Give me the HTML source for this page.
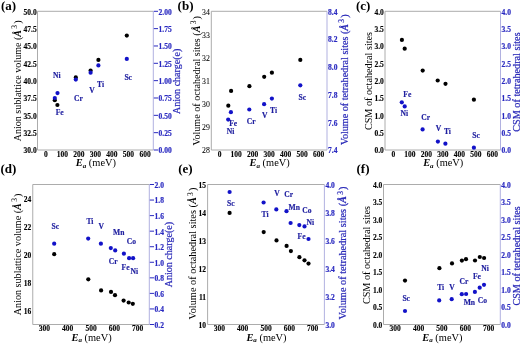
<!DOCTYPE html>
<html><head><meta charset="utf-8"><title>Figure</title>
<style>
html,body{margin:0;padding:0;background:#fff;}
svg{display:block;}
text{font-family:"Liberation Serif","DejaVu Serif",serif;}
.tk{font-size:7.5px;font-weight:bold;stroke:currentColor;stroke-width:0.18px;}
.tl{text-anchor:end;}
.tk{stroke-width:0.12px;}
.sr{font-weight:normal;font-size:7.8px;stroke-width:0.05px;}
.nb{font-family:"Liberation Sans","DejaVu Sans",sans-serif;font-size:7.4px;stroke-width:0.1px;}
.tc{text-anchor:middle;}
.el{font-size:7.6px;font-weight:bold;fill:#2020a0;text-anchor:middle;stroke:#2020a0;stroke-width:0.15px;}
.ax{font-size:10.4px;}
.axa{font-size:10.3px;}
.pl{font-size:13px;font-weight:bold;}
</style></head><body>
<svg width="520" height="344" viewBox="0 0 520 344">
<rect width="520" height="344" fill="#fff"/>
<path d="M37.5 11.3H153.3M37.5 11.3V150H153.3" stroke="#a3a3a3" stroke-width="0.9" fill="none"/>
<path d="M153.3 11.3V150" stroke="#a8a8dc" stroke-width="0.9" fill="none"/>
<text class="tk tc" x="45.77" y="156.9">0</text>
<text class="tk tc" x="62.31" y="156.9">100</text>
<text class="tk tc" x="78.86" y="156.9">200</text>
<text class="tk tc" x="95.4" y="156.9">300</text>
<text class="tk tc" x="111.94" y="156.9">400</text>
<text class="tk tc" x="128.49" y="156.9">500</text>
<text class="tk tc" x="145.03" y="156.9">600</text>
<text class="tk tl" x="36.7" y="153.4">30.0</text>
<text class="tk tl" x="36.7" y="136.06">32.5</text>
<text class="tk tl" x="36.7" y="118.73">35.0</text>
<text class="tk tl" x="36.7" y="101.39">37.5</text>
<text class="tk tl" x="36.7" y="84.05">40.0</text>
<text class="tk tl" x="36.7" y="66.71">42.5</text>
<text class="tk tl" x="36.7" y="49.38">45.0</text>
<text class="tk tl" x="36.7" y="32.04">47.5</text>
<text class="tk tl" x="36.7" y="14.7">50.0</text>
<path d="M153.8 150h4.2M153.8 132.66h4.2M153.8 115.33h4.2M153.8 97.99h4.2M153.8 80.65h4.2M153.8 63.31h4.2M153.8 45.98h4.2M153.8 28.64h4.2M153.8 11.3h4.2" stroke="#2a2ac0" stroke-width="1"/>
<text class="tk" x="158.5" y="153.4" fill="#2a2ac0" style="color:#2a2ac0;stroke-width:0.18px">0.00</text>
<text class="tk" x="158.5" y="136.06" fill="#2a2ac0" style="color:#2a2ac0;stroke-width:0.18px">0.25</text>
<text class="tk" x="158.5" y="118.73" fill="#2a2ac0" style="color:#2a2ac0;stroke-width:0.18px">0.50</text>
<text class="tk" x="158.5" y="101.39" fill="#2a2ac0" style="color:#2a2ac0;stroke-width:0.18px">0.75</text>
<text class="tk" x="158.5" y="84.05" fill="#2a2ac0" style="color:#2a2ac0;stroke-width:0.18px">1.00</text>
<text class="tk" x="158.5" y="66.71" fill="#2a2ac0" style="color:#2a2ac0;stroke-width:0.18px">1.25</text>
<text class="tk" x="158.5" y="49.38" fill="#2a2ac0" style="color:#2a2ac0;stroke-width:0.18px">1.50</text>
<text class="tk" x="158.5" y="32.04" fill="#2a2ac0" style="color:#2a2ac0;stroke-width:0.18px">1.75</text>
<text class="tk" x="158.5" y="14.7" fill="#2a2ac0" style="color:#2a2ac0;stroke-width:0.18px">2.00</text>
<text class="ax tc" x="95.9" y="166.3"><tspan font-weight="bold" font-style="italic">E</tspan><tspan font-weight="bold" font-style="italic" font-size="7" dy="1.6">a</tspan><tspan dy="-1.6"> (meV)</tspan></text>
<text class="pl" x="1" y="9.8">(a)</text>
<path d="M211.3 11.3H327M211.3 11.3V150H327" stroke="#a3a3a3" stroke-width="0.9" fill="none"/>
<path d="M327 11.3V150" stroke="#a8a8dc" stroke-width="0.9" fill="none"/>
<text class="tk tc" x="219.56" y="156.9">0</text>
<text class="tk tc" x="236.09" y="156.9">100</text>
<text class="tk tc" x="252.62" y="156.9">200</text>
<text class="tk tc" x="269.15" y="156.9">300</text>
<text class="tk tc" x="285.68" y="156.9">400</text>
<text class="tk tc" x="302.21" y="156.9">500</text>
<text class="tk tc" x="318.74" y="156.9">600</text>
<text class="tk tl sr" x="209.9" y="153.4">28</text>
<text class="tk tl sr" x="209.9" y="130.28">29</text>
<text class="tk tl sr" x="209.9" y="107.17">30</text>
<text class="tk tl sr" x="209.9" y="84.05">31</text>
<text class="tk tl sr" x="209.9" y="60.93">32</text>
<text class="tk tl sr" x="209.9" y="37.82">33</text>
<text class="tk tl sr" x="209.9" y="14.7">34</text>
<text class="tk" x="328" y="153.4" fill="#2a2ac0" style="color:#2a2ac0;stroke-width:0.18px">7.4</text>
<text class="tk" x="328" y="125.66" fill="#2a2ac0" style="color:#2a2ac0;stroke-width:0.18px">7.6</text>
<text class="tk" x="328" y="97.92" fill="#2a2ac0" style="color:#2a2ac0;stroke-width:0.18px">7.8</text>
<text class="tk" x="328" y="70.18" fill="#2a2ac0" style="color:#2a2ac0;stroke-width:0.18px">8.0</text>
<text class="tk" x="328" y="42.44" fill="#2a2ac0" style="color:#2a2ac0;stroke-width:0.18px">8.2</text>
<text class="tk" x="328" y="14.7" fill="#2a2ac0" style="color:#2a2ac0;stroke-width:0.18px">8.4</text>
<text class="ax tc" x="269.65" y="166.3"><tspan font-weight="bold" font-style="italic">E</tspan><tspan font-weight="bold" font-style="italic" font-size="7" dy="1.6">a</tspan><tspan dy="-1.6"> (meV)</tspan></text>
<text class="pl" x="177.6" y="9.8">(b)</text>
<path d="M385 11.3H500.5M385 11.3V150H500.5" stroke="#a3a3a3" stroke-width="0.9" fill="none"/>
<path d="M500.5 11.3V150" stroke="#a8a8dc" stroke-width="0.9" fill="none"/>
<text class="tk tc" x="393.25" y="156.9">0</text>
<text class="tk tc" x="409.75" y="156.9">100</text>
<text class="tk tc" x="426.25" y="156.9">200</text>
<text class="tk tc" x="442.75" y="156.9">300</text>
<text class="tk tc" x="459.25" y="156.9">400</text>
<text class="tk tc" x="475.75" y="156.9">500</text>
<text class="tk tc" x="492.25" y="156.9">600</text>
<text class="tk tl" x="383.8" y="153.4">0.0</text>
<text class="tk tl" x="383.8" y="136.06">0.5</text>
<text class="tk tl" x="383.8" y="118.73">1.0</text>
<text class="tk tl" x="383.8" y="101.39">1.5</text>
<text class="tk tl" x="383.8" y="84.05">2.0</text>
<text class="tk tl" x="383.8" y="66.71">2.5</text>
<text class="tk tl" x="383.8" y="49.38">3.0</text>
<text class="tk tl" x="383.8" y="32.04">3.5</text>
<text class="tk tl" x="383.8" y="14.7">4.0</text>
<text class="tk" x="501.5" y="153.4" fill="#2a2ac0" style="color:#2a2ac0;stroke-width:0.18px">0.0</text>
<text class="tk" x="501.5" y="136.06" fill="#2a2ac0" style="color:#2a2ac0;stroke-width:0.18px">0.5</text>
<text class="tk" x="501.5" y="118.73" fill="#2a2ac0" style="color:#2a2ac0;stroke-width:0.18px">1.0</text>
<text class="tk" x="501.5" y="101.39" fill="#2a2ac0" style="color:#2a2ac0;stroke-width:0.18px">1.5</text>
<text class="tk" x="501.5" y="84.05" fill="#2a2ac0" style="color:#2a2ac0;stroke-width:0.18px">2.0</text>
<text class="tk" x="501.5" y="66.71" fill="#2a2ac0" style="color:#2a2ac0;stroke-width:0.18px">2.5</text>
<text class="tk" x="501.5" y="49.38" fill="#2a2ac0" style="color:#2a2ac0;stroke-width:0.18px">3.0</text>
<text class="tk" x="501.5" y="32.04" fill="#2a2ac0" style="color:#2a2ac0;stroke-width:0.18px">3.5</text>
<text class="tk" x="501.5" y="14.7" fill="#2a2ac0" style="color:#2a2ac0;stroke-width:0.18px">4.0</text>
<text class="ax tc" x="443.25" y="166.3"><tspan font-weight="bold" font-style="italic">E</tspan><tspan font-weight="bold" font-style="italic" font-size="7" dy="1.6">a</tspan><tspan dy="-1.6"> (meV)</tspan></text>
<text class="pl" x="356" y="9.8">(c)</text>
<path d="M32.75 184.5H149.3M32.75 184.5V324.5H149.3" stroke="#a3a3a3" stroke-width="0.9" fill="none"/>
<path d="M149.3 184.5V324.5" stroke="#a8a8dc" stroke-width="0.9" fill="none"/>
<text class="tk tc" x="44.41" y="331.4">300</text>
<text class="tk tc" x="67.72" y="331.4">400</text>
<text class="tk tc" x="91.03" y="331.4">500</text>
<text class="tk tc" x="114.34" y="331.4">600</text>
<text class="tk tc" x="137.65" y="331.4">700</text>
<text class="tk tl" x="31.25" y="313.9">16</text>
<text class="tk tl" x="31.25" y="285.9">18</text>
<text class="tk tl" x="31.25" y="257.9">20</text>
<text class="tk tl" x="31.25" y="229.9">22</text>
<text class="tk tl" x="31.25" y="201.9">24</text>
<path d="M149.8 324.5h4.2M149.8 308.94h4.2M149.8 293.39h4.2M149.8 277.83h4.2M149.8 262.28h4.2M149.8 246.72h4.2M149.8 231.17h4.2M149.8 215.61h4.2M149.8 200.06h4.2M149.8 184.5h4.2" stroke="#2a2ac0" stroke-width="1"/>
<text class="tk" x="154.5" y="327.9" fill="#2a2ac0" style="color:#2a2ac0;stroke-width:0.18px">0.2</text>
<text class="tk" x="154.5" y="312.34" fill="#2a2ac0" style="color:#2a2ac0;stroke-width:0.18px">0.4</text>
<text class="tk" x="154.5" y="296.79" fill="#2a2ac0" style="color:#2a2ac0;stroke-width:0.18px">0.6</text>
<text class="tk" x="154.5" y="281.23" fill="#2a2ac0" style="color:#2a2ac0;stroke-width:0.18px">0.8</text>
<text class="tk" x="154.5" y="265.68" fill="#2a2ac0" style="color:#2a2ac0;stroke-width:0.18px">1.0</text>
<text class="tk" x="154.5" y="250.12" fill="#2a2ac0" style="color:#2a2ac0;stroke-width:0.18px">1.2</text>
<text class="tk" x="154.5" y="234.57" fill="#2a2ac0" style="color:#2a2ac0;stroke-width:0.18px">1.4</text>
<text class="tk" x="154.5" y="219.01" fill="#2a2ac0" style="color:#2a2ac0;stroke-width:0.18px">1.6</text>
<text class="tk" x="154.5" y="203.46" fill="#2a2ac0" style="color:#2a2ac0;stroke-width:0.18px">1.8</text>
<text class="tk" x="154.5" y="187.9" fill="#2a2ac0" style="color:#2a2ac0;stroke-width:0.18px">2.0</text>
<text class="ax tc" x="91.53" y="340.8"><tspan font-weight="bold" font-style="italic">E</tspan><tspan font-weight="bold" font-style="italic" font-size="7" dy="1.6">a</tspan><tspan dy="-1.6"> (meV)</tspan></text>
<text class="pl" x="0.4" y="173.2">(d)</text>
<path d="M207.6 184.5H324.4M207.6 184.5V324.5H324.4" stroke="#a3a3a3" stroke-width="0.9" fill="none"/>
<path d="M324.4 184.5V324.5" stroke="#a8a8dc" stroke-width="0.9" fill="none"/>
<text class="tk tc" x="219.28" y="331.4">300</text>
<text class="tk tc" x="242.64" y="331.4">400</text>
<text class="tk tc" x="266" y="331.4">500</text>
<text class="tk tc" x="289.36" y="331.4">600</text>
<text class="tk tc" x="312.72" y="331.4">700</text>
<text class="tk tl" x="206.1" y="327.9">10</text>
<text class="tk tl" x="206.1" y="299.9">11</text>
<text class="tk tl" x="206.1" y="271.9">12</text>
<text class="tk tl" x="206.1" y="243.9">13</text>
<text class="tk tl" x="206.1" y="215.9">14</text>
<text class="tk tl" x="206.1" y="187.9">15</text>
<text class="tk" x="325.4" y="327.9" fill="#2a2ac0" style="color:#2a2ac0;stroke-width:0.18px">3.0</text>
<text class="tk" x="325.4" y="299.9" fill="#2a2ac0" style="color:#2a2ac0;stroke-width:0.18px">3.2</text>
<text class="tk" x="325.4" y="271.9" fill="#2a2ac0" style="color:#2a2ac0;stroke-width:0.18px">3.4</text>
<text class="tk" x="325.4" y="243.9" fill="#2a2ac0" style="color:#2a2ac0;stroke-width:0.18px">3.6</text>
<text class="tk" x="325.4" y="215.9" fill="#2a2ac0" style="color:#2a2ac0;stroke-width:0.18px">3.8</text>
<text class="tk" x="325.4" y="187.9" fill="#2a2ac0" style="color:#2a2ac0;stroke-width:0.18px">4.0</text>
<text class="ax tc" x="266.5" y="340.8"><tspan font-weight="bold" font-style="italic">E</tspan><tspan font-weight="bold" font-style="italic" font-size="7" dy="1.6">a</tspan><tspan dy="-1.6"> (meV)</tspan></text>
<text class="pl" x="178.2" y="173.2">(e)</text>
<path d="M383.5 184.5H500.3M383.5 184.5V324.5H500.3" stroke="#a3a3a3" stroke-width="0.9" fill="none"/>
<path d="M500.3 184.5V324.5" stroke="#a8a8dc" stroke-width="0.9" fill="none"/>
<text class="tk tc" x="395.18" y="331.4">300</text>
<text class="tk tc" x="418.54" y="331.4">400</text>
<text class="tk tc" x="441.9" y="331.4">500</text>
<text class="tk tc" x="465.26" y="331.4">600</text>
<text class="tk tc" x="488.62" y="331.4">700</text>
<text class="tk tl" x="382.3" y="327.9">0.0</text>
<text class="tk tl" x="382.3" y="310.4">0.5</text>
<text class="tk tl" x="382.3" y="292.9">1.0</text>
<text class="tk tl" x="382.3" y="275.4">1.5</text>
<text class="tk tl" x="382.3" y="257.9">2.0</text>
<text class="tk tl" x="382.3" y="240.4">2.5</text>
<text class="tk tl" x="382.3" y="222.9">3.0</text>
<text class="tk tl" x="382.3" y="205.4">3.5</text>
<text class="tk tl" x="382.3" y="187.9">4.0</text>
<text class="tk" x="501.3" y="327.9" fill="#2a2ac0" style="color:#2a2ac0;stroke-width:0.18px">0.0</text>
<text class="tk" x="501.3" y="310.4" fill="#2a2ac0" style="color:#2a2ac0;stroke-width:0.18px">0.5</text>
<text class="tk" x="501.3" y="292.9" fill="#2a2ac0" style="color:#2a2ac0;stroke-width:0.18px">1.0</text>
<text class="tk" x="501.3" y="275.4" fill="#2a2ac0" style="color:#2a2ac0;stroke-width:0.18px">1.5</text>
<text class="tk" x="501.3" y="257.9" fill="#2a2ac0" style="color:#2a2ac0;stroke-width:0.18px">2.0</text>
<text class="tk" x="501.3" y="240.4" fill="#2a2ac0" style="color:#2a2ac0;stroke-width:0.18px">2.5</text>
<text class="tk" x="501.3" y="222.9" fill="#2a2ac0" style="color:#2a2ac0;stroke-width:0.18px">3.0</text>
<text class="tk" x="501.3" y="205.4" fill="#2a2ac0" style="color:#2a2ac0;stroke-width:0.18px">3.5</text>
<text class="tk" x="501.3" y="187.9" fill="#2a2ac0" style="color:#2a2ac0;stroke-width:0.18px">4.0</text>
<text class="ax tc" x="442.4" y="340.8"><tspan font-weight="bold" font-style="italic">E</tspan><tspan font-weight="bold" font-style="italic" font-size="7" dy="1.6">a</tspan><tspan dy="-1.6"> (meV)</tspan></text>
<text class="pl" x="356.5" y="173.2">(f)</text>
<text class="ax axa" transform="translate(20.8 141.3) rotate(-90)" fill="#000" style="font-size:10.06px">Anion sublattice volume (<tspan font-weight="bold" font-style="italic">&#197;</tspan><tspan font-size="7.5" dx="1.3" dy="-3.8">3</tspan><tspan dx="1.1" dy="3.8">)</tspan></text>
<text class="ax" transform="translate(180.1 114) rotate(-90)" fill="#2a2ab8" style="font-size:10.05px;stroke:#2a2ab8;stroke-width:0.2px">Anion charge(e)</text>
<text class="ax axa" transform="translate(200 145.6) rotate(-90)" fill="#000" style="font-size:10.12px">Volume of octahedral sites (<tspan font-weight="bold" font-style="italic">&#197;</tspan><tspan font-size="7.5" dx="1.3" dy="-3.8">3</tspan><tspan dx="1.1" dy="3.8">)</tspan></text>
<text class="ax axa" transform="translate(348.1 145.1) rotate(-90)" fill="#2a2ab8" style="font-size:10.12px;stroke:#2a2ab8;stroke-width:0.2px">Volume of tetrahedral sites (<tspan font-weight="bold" font-style="italic">&#197;</tspan><tspan font-size="7.5" dx="1.3" dy="-3.8">3</tspan><tspan dx="1.1" dy="3.8">)</tspan></text>
<text class="ax" transform="translate(371.6 130.1) rotate(-90)" fill="#000" style="font-size:10.2px">CSM of octahedral sites</text>
<text class="ax" transform="translate(519.7 131.7) rotate(-90)" fill="#2a2ab8" style="font-size:10.2px;stroke:#2a2ab8;stroke-width:0.2px">CSM of tetrahedral sites</text>
<text class="ax axa" transform="translate(20.8 315.2) rotate(-90)" fill="#000" style="font-size:10.12px">Anion sublattice volume (<tspan font-weight="bold" font-style="italic">&#197;</tspan><tspan font-size="7.5" dx="1.3" dy="-3.8">3</tspan><tspan dx="1.1" dy="3.8">)</tspan></text>
<text class="ax" transform="translate(172.1 287.3) rotate(-90)" fill="#2a2ab8" style="font-size:10.05px;stroke:#2a2ab8;stroke-width:0.2px">Anion charge(e)</text>
<text class="ax axa" transform="translate(196.3 319.4) rotate(-90)" fill="#000" style="font-size:10.3px">Volume of octahedral sites (<tspan font-weight="bold" font-style="italic">&#197;</tspan><tspan font-size="7.5" dx="1.3" dy="-3.8">3</tspan><tspan dx="1.1" dy="3.8">)</tspan></text>
<text class="ax axa" transform="translate(346.4 319.4) rotate(-90)" fill="#2a2ab8" style="font-size:10.3px;stroke:#2a2ab8;stroke-width:0.2px">Volume of tetrahedral sites (<tspan font-weight="bold" font-style="italic">&#197;</tspan><tspan font-size="7.5" dx="1.3" dy="-3.8">3</tspan><tspan dx="1.1" dy="3.8">)</tspan></text>
<text class="ax" transform="translate(370.4 304.1) rotate(-90)" fill="#000" style="font-size:10.2px">CSM of octahedral sites</text>
<text class="ax" transform="translate(519.7 305.6) rotate(-90)" fill="#2a2ab8" style="font-size:10.2px;stroke:#2a2ab8;stroke-width:0.2px">CSM of tetrahedral sites</text>
<g fill="#000"><circle cx="54.8" cy="100.2" r="2.1"/><circle cx="57.4" cy="105" r="2.1"/><circle cx="75.8" cy="77.4" r="2.1"/><circle cx="90.6" cy="70.6" r="2.1"/><circle cx="98.4" cy="59.9" r="2.1"/><circle cx="126.8" cy="35.6" r="2.1"/><circle cx="228.3" cy="105.7" r="2.1"/><circle cx="231.1" cy="90.9" r="2.1"/><circle cx="249.4" cy="86.2" r="2.1"/><circle cx="264.2" cy="76.8" r="2.1"/><circle cx="271.9" cy="72.7" r="2.1"/><circle cx="300.3" cy="59.9" r="2.1"/><circle cx="401.9" cy="39.9" r="2.1"/><circle cx="404.7" cy="48.7" r="2.1"/><circle cx="422.7" cy="70.6" r="2.1"/><circle cx="437.7" cy="80.5" r="2.1"/><circle cx="445.5" cy="83.8" r="2.1"/><circle cx="473.9" cy="99.7" r="2.1"/><circle cx="54.2" cy="254.2" r="2.1"/><circle cx="88.3" cy="279.3" r="2.1"/><circle cx="101.1" cy="290.4" r="2.1"/><circle cx="111" cy="291.9" r="2.1"/><circle cx="115" cy="295.2" r="2.1"/><circle cx="123.6" cy="300.6" r="2.1"/><circle cx="128.7" cy="302.5" r="2.1"/><circle cx="132.8" cy="303.8" r="2.1"/><circle cx="229.6" cy="212.9" r="2.1"/><circle cx="263.7" cy="232.1" r="2.1"/><circle cx="276.5" cy="240.4" r="2.1"/><circle cx="286.6" cy="245.9" r="2.1"/><circle cx="290.9" cy="251.1" r="2.1"/><circle cx="299.4" cy="257.2" r="2.1"/><circle cx="304.5" cy="260.3" r="2.1"/><circle cx="308.5" cy="263.6" r="2.1"/><circle cx="405" cy="280.6" r="2.1"/><circle cx="439.4" cy="268.2" r="2.1"/><circle cx="452" cy="263.4" r="2.1"/><circle cx="461.9" cy="260.6" r="2.1"/><circle cx="466" cy="259.2" r="2.1"/><circle cx="475" cy="260.5" r="2.1"/><circle cx="479.8" cy="257" r="2.1"/><circle cx="484.1" cy="258" r="2.1"/></g>
<g fill="#1212c8"><circle cx="57.5" cy="93.1" r="2.1"/><circle cx="54.8" cy="98" r="2.1"/><circle cx="75.8" cy="79.6" r="2.1"/><circle cx="90.6" cy="72.7" r="2.1"/><circle cx="98.4" cy="65.4" r="2.1"/><circle cx="126.8" cy="58.9" r="2.1"/><circle cx="228.2" cy="119.6" r="2.1"/><circle cx="230.9" cy="112.2" r="2.1"/><circle cx="249.3" cy="109.5" r="2.1"/><circle cx="264.1" cy="104.2" r="2.1"/><circle cx="271.9" cy="98.6" r="2.1"/><circle cx="300.3" cy="85.3" r="2.1"/><circle cx="401.8" cy="102.3" r="2.1"/><circle cx="404.7" cy="106.4" r="2.1"/><circle cx="422.6" cy="129.4" r="2.1"/><circle cx="437.9" cy="141.6" r="2.1"/><circle cx="445.4" cy="143.7" r="2.1"/><circle cx="473.9" cy="147.7" r="2.1"/><circle cx="54.2" cy="243.7" r="2.1"/><circle cx="88.2" cy="238.6" r="2.1"/><circle cx="100.9" cy="243.7" r="2.1"/><circle cx="110.8" cy="248.1" r="2.1"/><circle cx="115.2" cy="250.4" r="2.1"/><circle cx="123.9" cy="253.7" r="2.1"/><circle cx="129.1" cy="258.2" r="2.1"/><circle cx="133.1" cy="258.2" r="2.1"/><circle cx="229.6" cy="192" r="2.1"/><circle cx="263.6" cy="202.5" r="2.1"/><circle cx="276.3" cy="209.4" r="2.1"/><circle cx="286.5" cy="211.2" r="2.1"/><circle cx="290.6" cy="223" r="2.1"/><circle cx="299.3" cy="225.1" r="2.1"/><circle cx="304.5" cy="226.4" r="2.1"/><circle cx="308.5" cy="239" r="2.1"/><circle cx="405" cy="311" r="2.1"/><circle cx="439.2" cy="300.4" r="2.1"/><circle cx="451.7" cy="299.2" r="2.1"/><circle cx="461.8" cy="294.2" r="2.1"/><circle cx="466.1" cy="294" r="2.1"/><circle cx="474.9" cy="291.9" r="2.1"/><circle cx="479.7" cy="287.7" r="2.1"/><circle cx="484" cy="284.8" r="2.1"/></g>
<text class="el" x="56.9" y="77.5">Ni</text>
<text class="el" x="59.7" y="114.5">Fe</text>
<text class="el" x="78.4" y="100.7">Cr</text>
<text class="el" x="91.9" y="93">V</text>
<text class="el" x="100.6" y="86.9">Ti</text>
<text class="el" x="128.2" y="79.9">Sc</text>
<text class="el" x="233.2" y="126.4">Fe</text>
<text class="el" x="230.5" y="133.8">Ni</text>
<text class="el" x="251.3" y="123.9">Cr</text>
<text class="el" x="264.8" y="117.9">V</text>
<text class="el" x="273.5" y="112.9">Ti</text>
<text class="el" x="302.3" y="99.6">Sc</text>
<text class="el" x="407.3" y="96.9">Fe</text>
<text class="el" x="404.3" y="116.2">Ni</text>
<text class="el" x="425.6" y="119.7">Cr</text>
<text class="el" x="438.5" y="131.1">V</text>
<text class="el" x="447.4" y="133.5">Ti</text>
<text class="el" x="476" y="138.2">Sc</text>
<text class="el" x="55.4" y="228.8">Sc</text>
<text class="el" x="89.9" y="223.8">Ti</text>
<text class="el" x="101.3" y="228.5">V</text>
<text class="el" x="118.7" y="235.1">Mn</text>
<text class="el" x="131.4" y="243.5">Co</text>
<text class="el" x="113.1" y="264.4">Cr</text>
<text class="el" x="125.6" y="269.6">Fe</text>
<text class="el" x="134.4" y="273.8">Ni</text>
<text class="el" x="230.8" y="206.4">Sc</text>
<text class="el" x="265" y="217">Ti</text>
<text class="el" x="276.9" y="195.6">V</text>
<text class="el" x="288.6" y="197.3">Cr</text>
<text class="el" x="294.3" y="209.5">Mn</text>
<text class="el" x="306.9" y="213">Co</text>
<text class="el" x="310.4" y="225.2">Ni</text>
<text class="el" x="301.6" y="239.2">Fe</text>
<text class="el" x="406.2" y="301.2">Sc</text>
<text class="el" x="440.7" y="290.3">Ti</text>
<text class="el" x="452.1" y="289.6">V</text>
<text class="el" x="463.9" y="284.3">Cr</text>
<text class="el" x="469.4" y="304.8">Mn</text>
<text class="el" x="482.5" y="302.5">Co</text>
<text class="el" x="476.9" y="278.6">Fe</text>
<text class="el" x="485.1" y="271.3">Ni</text>
</svg>
</body></html>
